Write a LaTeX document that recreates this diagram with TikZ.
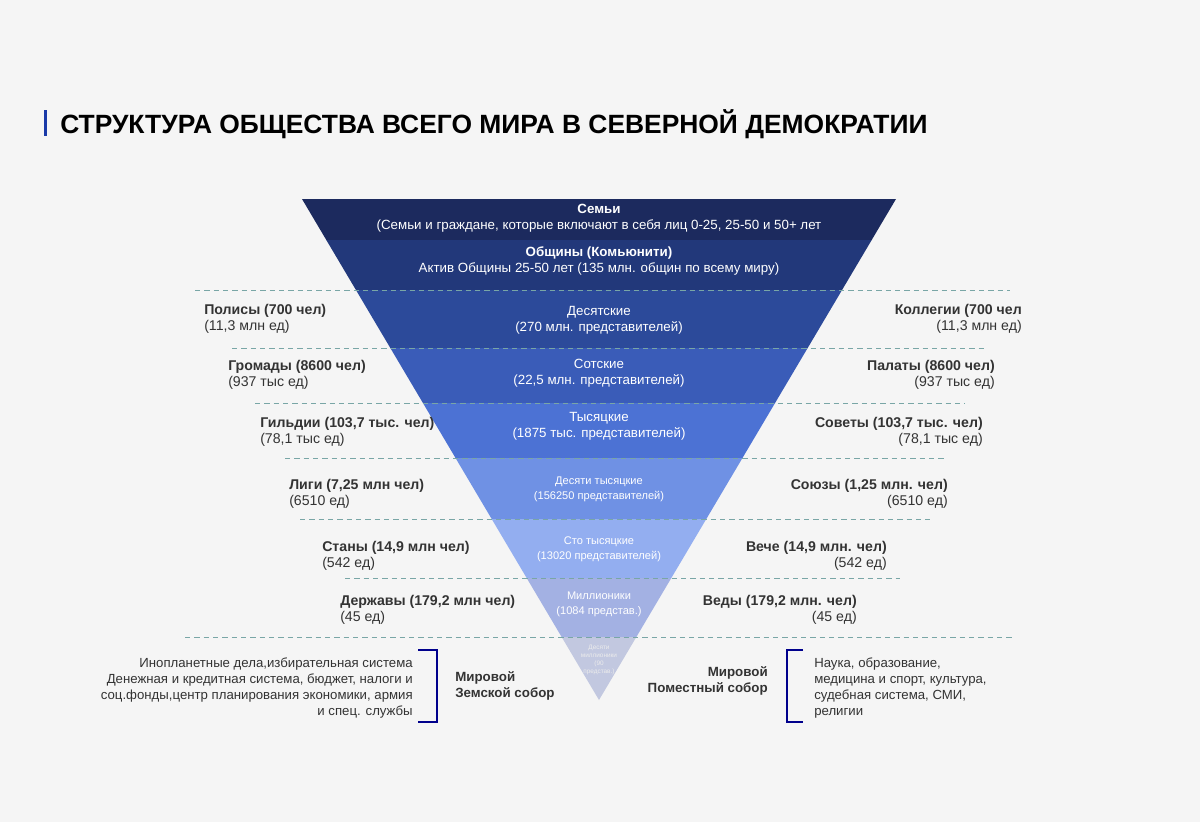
\documentclass[tikz,border=0pt]{standalone}
\usepackage{fontspec}
\setmainfont{Liberation Sans}
\begin{document}
\begin{tikzpicture}[x=0.75pt,y=-0.75pt,
 band/.style={text=white,align=center,font=\fontsize{10}{12}\selectfont,inner sep=0},
 lab/.style={text=black!80,font=\fontsize{10.6}{12}\selectfont,inner sep=0},
 dl/.style={draw=teal!50!gray!70,dashed,dash pattern=on 4pt off 3pt,line width=0.6pt},
 brk/.style={draw=blue!55!black,line width=1.5pt}]
\fill[gray!8] (0,0) rectangle (1200,822);
\useasboundingbox (0,0) rectangle (1200,822);
\definecolor{tb}{HTML}{1A3AA8}
\fill[tb] (44,110) rectangle (47,136);
\node[anchor=base west,inner sep=0,font=\fontsize{19.8}{24}\selectfont\bfseries] (title) at (60,133) {СТРУКТУРА ОБЩЕСТВА ВСЕГО МИРА В СЕВЕРНОЙ ДЕМОКРАТИИ};
% bands
\def\xl#1{302+0.5928*(#1-199)}
\def\xr#1{896-0.5928*(#1-199)}
\foreach \a/\b/\c in {199/240/1C2A5E,240/290/22387A,290/348/2C4A9A,348/403/3A5CB8,403/458/4C72D4,458/519/6F91E4,519/578/93AEF0,578/637/A3B1E3,637/700/C2C8E0}{
 \definecolor{bc}{HTML}{\c}
 \fill[bc] ({\xl{\a}},\a) -- ({\xr{\a}},\a) -- ({\xr{\b}},\b) -- ({\xl{\b}},\b) -- cycle;}
\foreach \y/\l/\r in {290/195/1010,348/232/985,403/255/965,458/285/945,519/300/930,578/345/900,637/185/1015}
 \draw[dl] (\l,\y) -- (\r,\y);
\node[band] (b1) at (599,218) {\textbf{Семьи}\\(Семьи и граждане, которые включают в себя лиц 0-25, 25-50 и 50+ лет};
\node[band] (b2) at (599,261) {\textbf{Общины (Комьюнити)}\\Актив Общины 25-50 лет (135 млн. общин по всему миру)};
\node[band] (b3) at (599,320) {Десятские\\(270 млн. представителей)};
\node[band] (b4) at (599,373) {Сотские\\(22,5 млн. представителей)};
\node[band] (b5) at (599,426) {Тысяцкие\\(1875 тыс. представителей)};
\node[band,font=\fontsize{8.3}{11}\selectfont] (b6) at (599,489) {Десяти тысяцкие\\(156250 представителей)};
\node[band,font=\fontsize{8.3}{11}\selectfont] (b7) at (599,549) {Сто тысяцкие\\(13020 представителей)};
\node[band,font=\fontsize{8.3}{11}\selectfont] (b8) at (599,604) {Миллионики\\(1084 представ.)};
\node[band,font=\fontsize{4.8}{6}\selectfont,text=white!85!gray] (b9) at (599,660) {Десяти\\миллионики\\(90\\представ.)};
% left labels
\foreach \n/\x/\y/\t/\s in {l1/204/312/Полисы (700 чел)/(11{,}3 млн ед),l2/228/368/Громады (8600 чел)/(937 тыс ед),l3/260/425/Гильдии (103{,}7 тыс. чел)/(78{,}1 тыс ед),l4/289/487/Лиги (7{,}25 млн чел)/(6510 ед),l5/322/549/Станы (14{,}9 млн чел)/(542 ед),l6/340/603/Державы (179{,}2 млн чел)/(45 ед)}
 \node[lab,anchor=west,align=left] (\n) at (\x,\y+7) {\textbf{\t}\\\s};
\foreach \n/\x/\y/\t/\s in {r1/1022/312/Коллегии (700 чел/(11{,}3 млн ед),r2/995/368/Палаты (8600 чел)/(937 тыс ед),r3/983/425/Советы (103{,}7 тыс. чел)/(78{,}1 тыс ед),r4/948/487/Союзы (1{,}25 млн. чел)/(6510 ед),r5/887/549/Вече (14{,}9 млн. чел)/(542 ед),r6/857/603/Веды (179{,}2 млн. чел)/(45 ед)}
 \node[lab,anchor=east,align=right] (\n) at (\x,\y+7) {\textbf{\t}\\\s};
% bottom
\node[lab,anchor=east,align=right,font=\fontsize{9.9}{11.8}\selectfont] (lt) at (413,688) {Инопланетные дела,избирательная система\\Денежная и кредитная система, бюджет, налоги и\\соц.фонды,центр планирования экономики, армия\\и спец. службы};
\draw[brk] (418,650) -- (437,650) -- (437,722) -- (418,722);
\node[lab,anchor=west,align=left,font=\fontsize{10}{11.5}\selectfont\bfseries] (ls) at (455,686) {Мировой\\Земской собор};
\node[lab,anchor=east,align=right,font=\fontsize{10}{11.5}\selectfont\bfseries] (rs) at (768,681) {Мировой\\Поместный собор};
\draw[brk] (803,650) -- (787,650) -- (787,722) -- (803,722);
\node[lab,anchor=west,align=left,font=\fontsize{9.9}{11.8}\selectfont] (rt) at (814,688) {Наука, образование,\\медицина и спорт, культура,\\судебная система, СМИ,\\религии};
\end{tikzpicture}
\end{document}
